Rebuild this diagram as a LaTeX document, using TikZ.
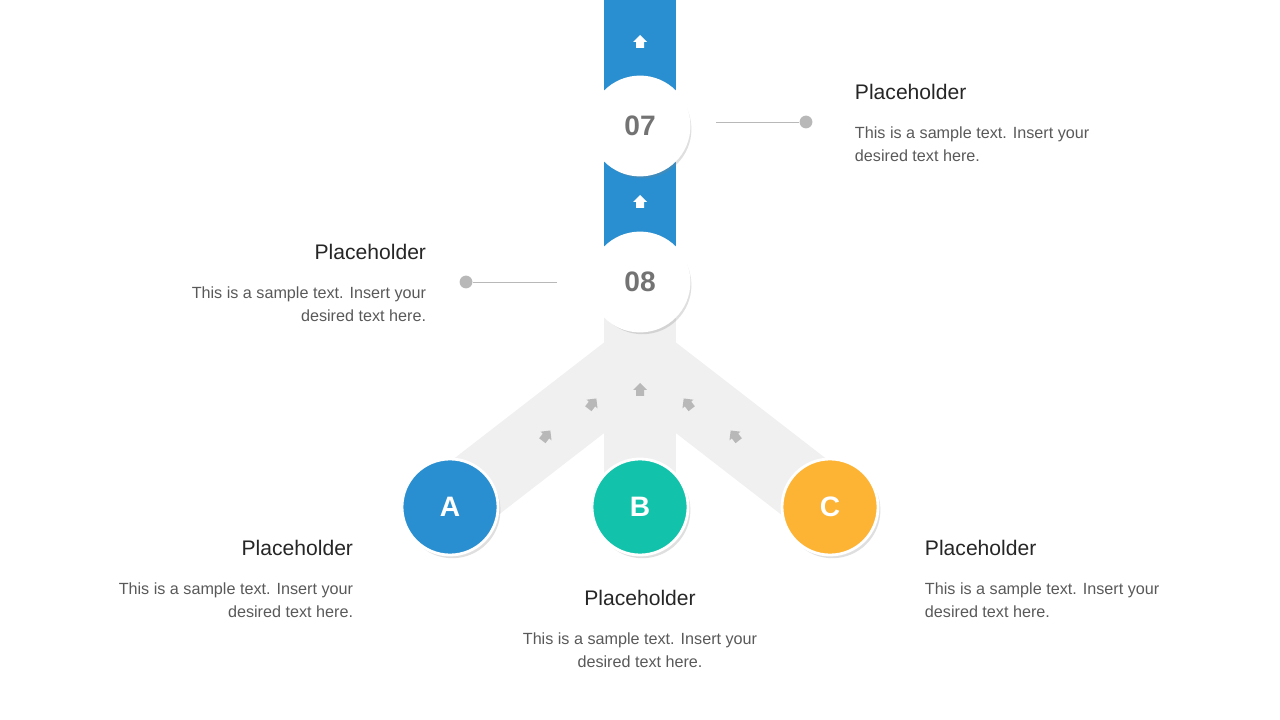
\documentclass[tikz,border=0pt]{standalone}
\usepackage{fontspec}
\setmainfont{Liberation Sans}
\usetikzlibrary{shadows}
\definecolor{stepblue}{HTML}{2A8FD0}
\definecolor{stepteal}{HTML}{13C2AA}
\definecolor{steporange}{HTML}{FDB334}
\definecolor{bandgray}{HTML}{F0F0F0}
\definecolor{arrowgray}{HTML}{B8B8B8}
\definecolor{bodygray}{HTML}{595959}
\tikzset{
  numcircle/.style={circle, draw=white, line width=2pt, minimum size=2.45cm,
    inner sep=0pt, font=\fontsize{20}{24}\selectfont\bfseries,
    drop shadow={shadow xshift=0.6mm, shadow yshift=-0.8mm, opacity=0.25}},
  title/.style={font=\fontsize{15}{18}\selectfont, text=black!85},
  body/.style={font=\fontsize{11.5}{16}\selectfont, text=bodygray, align=#1},
  pics/flowarrow/.style={code={
    \fill[#1] (-4,-6) -- (4,-6) -- (4,0) -- (7,0) -- (0,7) -- (-7,0) -- (-4,0) -- cycle;}}
}
\begin{document}
\begin{tikzpicture}[x=0.025cm, y=-0.025cm]
  \useasboundingbox (0,0) rectangle (1280,720);
  % bands
  \fill[stepblue] (604,0) rectangle (676,250);
  \draw[bandgray, line width=51pt] (640,300) -- (640,507);
  \draw[bandgray, line width=51pt] (640,360) -- (450,507);
  \draw[bandgray, line width=51pt] (640,360) -- (830,507);
  % arrows
  \pic[rotate=180] at (640,42) {flowarrow=white};
  \pic[rotate=180] at (640,202) {flowarrow=white};
  \pic[rotate=180] at (640,390) {flowarrow=arrowgray};
  \pic[rotate=142] at (592,404) {flowarrow=arrowgray};
  \pic[rotate=142] at (546,436) {flowarrow=arrowgray};
  \pic[rotate=218] at (688,404) {flowarrow=arrowgray};
  \pic[rotate=218] at (735,436) {flowarrow=arrowgray};
  % circles
  \node[numcircle, fill=white, text=black!55] (s07) at (640,126) {07};
  \node[numcircle, fill=white, text=black!55] (s08) at (640,282) {08};
  \node[numcircle, fill=stepblue, text=white, minimum size=2.4cm] (ca) at (450,507) {A};
  \node[numcircle, fill=stepteal, text=white, minimum size=2.4cm] (cb) at (640,507) {B};
  \node[numcircle, fill=steporange, text=white, minimum size=2.4cm] (cc) at (830,507) {C};
  % leaders
  \coordinate (l07) at (716,122);
  \node[circle, fill=arrowgray, inner sep=0pt, minimum size=0.32cm] (d07) at (806,122) {};
  \draw[arrowgray] (l07) -- (d07);
  \coordinate (l08) at (557,282);
  \node[circle, fill=arrowgray, inner sep=0pt, minimum size=0.32cm] (d08) at (466,282) {};
  \draw[arrowgray] (l08) -- (d08);
  % texts
  \node[title, anchor=west] (t07) at (850,92) {Placeholder};
  \node[body=left, anchor=north west] (b07) at (850,122) {This is a sample text. Insert your\\desired text here.};
  \node[title, anchor=east] (t08) at (431,252) {Placeholder};
  \node[body=right, anchor=north east] (b08) at (431,282) {This is a sample text. Insert your\\desired text here.};
  \node[title, anchor=east] (ta) at (358,548) {Placeholder};
  \node[body=right, anchor=north east] (ba) at (358,578) {This is a sample text. Insert your\\desired text here.};
  \node[title] (tb) at (640,598) {Placeholder};
  \node[body=center, anchor=north] (bb) at (640,628) {This is a sample text. Insert your\\desired text here.};
  \node[title, anchor=west] (tc) at (920,548) {Placeholder};
  \node[body=left, anchor=north west] (bc) at (920,578) {This is a sample text. Insert your\\desired text here.};
\end{tikzpicture}
\end{document}
